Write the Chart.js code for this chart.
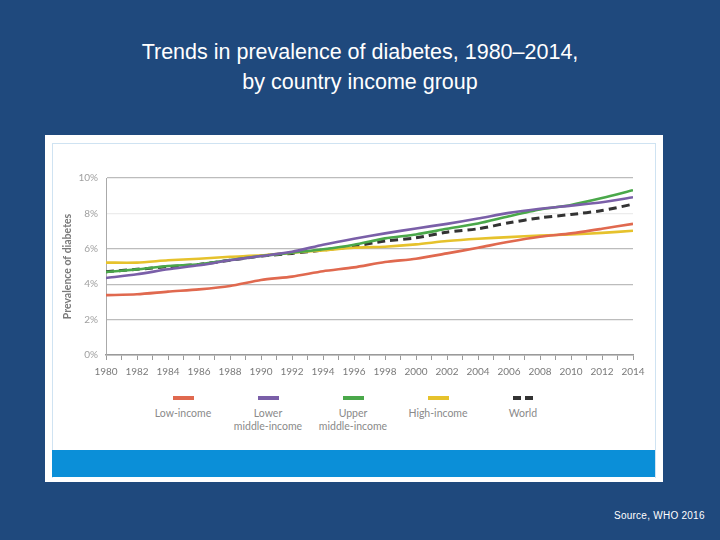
<!DOCTYPE html>
<html>
<head>
<meta charset="utf-8">
<script src="https://cdn.jsdelivr.net/npm/chart.js@4"></script>
<style>
  html, body { margin: 0; padding: 0; }
  body { width: 720px; height: 540px; background: #1f497d; position: relative; overflow: hidden; font-family: "Open Sans", sans-serif; }
  #title { position: absolute; left: 0; top: 37px; width: 720px; text-align: center; color: #fff; font-family: "Liberation Sans", Arial, sans-serif; font-size: 21.5px; line-height: 30px; }
  #card { position: absolute; left: 45px; top: 135px; width: 618px; height: 347px; background: #fff; }
  #frame { position: absolute; left: 52px; top: 143px; width: 602px; height: 334px; border: 1px solid #cfe3f2; border-bottom: none; }
  #bar { position: absolute; left: 52px; top: 450px; width: 603px; height: 27px; background: #0b8fd8; }
  #mycanvas { position: absolute; left: 52px; top: 143px; }
  #legend { position: absolute; left: 0; top: 0; }
  .item { position: absolute; width: 100px; margin-left: -50px; text-align: center; color: #8a8a8a; font-size: 10.5px; line-height: 13px; font-family: Lato, sans-serif; }
  .swatch { width: 21px; height: 4px; margin: 0 auto 7px auto; }
  #source { position: absolute; left: 614px; top: 510px; color: #fff; font-family: "Liberation Sans", Arial, sans-serif; font-size: 10px; letter-spacing: 0.25px; }
</style>
</head>
<body>
<div id="title">Trends in prevalence of diabetes, 1980&#8211;2014,<br>by country income group</div>
<div id="card"></div>
<div id="frame"></div>
<div id="bar"></div>
<canvas id="mycanvas" width="603" height="240"></canvas>
<div id="legend"></div>
<div id="source">Source, WHO 2016</div>

<script>
// values, every second year
const years = [1980, 1982, 1984, 1986, 1988, 1990, 1992, 1994, 1996, 1998, 2000, 2002, 2004, 2006, 2008, 2010, 2012, 2014];
const lowIncome   = [3.38, 3.43, 3.58, 3.71, 3.90, 4.24, 4.43, 4.73, 4.95, 5.25, 5.44, 5.74, 6.06, 6.40, 6.68, 6.87, 7.13, 7.41];
const lowerMiddle = [4.35, 4.56, 4.84, 5.07, 5.35, 5.59, 5.83, 6.23, 6.57, 6.87, 7.15, 7.41, 7.71, 8.03, 8.26, 8.44, 8.63, 8.91];
const upperMiddle = [4.69, 4.84, 5.03, 5.12, 5.37, 5.59, 5.78, 5.97, 6.23, 6.59, 6.81, 7.13, 7.43, 7.84, 8.22, 8.48, 8.87, 9.31];
const highIncome  = [5.22, 5.22, 5.35, 5.44, 5.55, 5.63, 5.78, 5.91, 6.06, 6.12, 6.25, 6.44, 6.57, 6.66, 6.75, 6.81, 6.90, 7.02];
const world       = [4.71, 4.84, 4.99, 5.12, 5.35, 5.59, 5.74, 5.93, 6.15, 6.44, 6.62, 6.94, 7.13, 7.47, 7.75, 7.94, 8.16, 8.52];

const seriesNames = [['Low-income'], ['Lower', 'middle-income'], ['Upper', 'middle-income'], ['High-income'], ['World']];
const seriesColors = ['#e0694f', '#7a5fa8', '#4aa84a', '#e6c22c', '#333333'];
const yTicks = [0, 2, 4, 6, 8, 10];
const yTitle = 'Prevalence of diabetes';

function toPoints(values) {
  var pts = [];
  for (let i in years) {
    pts.push({ x: years[i], y: values[i] });
  }
  return pts;
}

function makeDataset(i, values) {
  return {
    label: seriesNames[i].join(' '),
    data: toPoints(values),
    borderColor: seriesColors[i],
    backgroundColor: seriesColors[i],
    borderWidth: i == 4 ? 3 : 2.6,
    borderDash: i == 4 ? [8, 5] : [],
    pointRadius: 0,
    tension: 0.25,
    fill: false
  };
}

const ctx = document.getElementById('mycanvas');
window.myChart = new Chart(ctx, {
  type: 'line',
  data: {
    datasets: [
      makeDataset(0, lowIncome),
      makeDataset(1, lowerMiddle),
      makeDataset(2, upperMiddle),
      makeDataset(3, highIncome),
      makeDataset(4, world)
    ]
  },
  options: {
    responsive: false,
    animation: false,
    layout: { padding: { top: 35, right: 22, left: 0, bottom: 0 } },
    plugins: {
      legend: { display: false },
      tooltip: { enabled: false }
    },
    scales: {
      x: {
        type: 'linear',
        min: 1980,
        max: 2014,
        afterFit: function (scale) { scale.height = 28; },
        afterBuildTicks: function (scale) {
          var t = [];
          for (let y = 1980; y <= 2014; y++) t.push({ value: y });
          scale.ticks = t;
        },
        border: { display: true, color: '#9a9a9a', width: 1.5 },
        grid: { drawOnChartArea: false, drawTicks: true, tickLength: 5, color: '#9a9a9a' },
        ticks: {
          autoSkip: false,
          maxRotation: 0,
          padding: 6,
          color: '#7a7a7a',
          font: { family: 'Lato', size: 10 },
          callback: function (v) { return v % 2 == 0 ? String(v) : ''; }
        }
      },
      y: {
        min: 0,
        max: 10,
        afterFit: function (scale) { scale.width = 54; },
        afterBuildTicks: function (scale) {
          scale.ticks = yTicks.map(function (v) { return { value: v }; });
        },
        border: { display: true, color: '#aaaaaa' },
        grid: {
          drawTicks: false,
          color: function (c) { return c.tick && c.tick.value == 8 ? '#ececec' : '#bcbcbc'; },
          lineWidth: 1.3
        },
        ticks: {
          padding: 8,
          color: '#a0a0a0',
          font: { family: 'Lato', size: 10 },
          callback: function (v) { return v + '%'; }
        },
        title: {
          display: true,
          text: yTitle,
          color: '#7a7a7a',
          padding: { top: 9, bottom: 0 },
          font: { family: 'Lato', size: 10.5, weight: 'bold' }
        }
      }
    }
  }
});

// legend below the plot: short colour bar with the name under it
const legendX = [183, 268, 353, 438, 523];
const legendTop = 396;
var legend = document.getElementById('legend');
for (let i in seriesNames) {
  var item = document.createElement('div');
  item.className = 'item';
  item.style.left = legendX[i] + 'px';
  item.style.top = legendTop + 'px';
  var sw = document.createElement('div');
  sw.className = 'swatch';
  if (i == 4) {
    sw.style.background = 'repeating-linear-gradient(90deg, ' + seriesColors[i] + ' 0 8px, transparent 8px 12px)';
  } else {
    sw.style.background = seriesColors[i];
  }
  item.appendChild(sw);
  for (let line of seriesNames[i]) {
    var t = document.createElement('div');
    t.textContent = line;
    item.appendChild(t);
  }
  legend.appendChild(item);
}
</script>
</body>
</html>
